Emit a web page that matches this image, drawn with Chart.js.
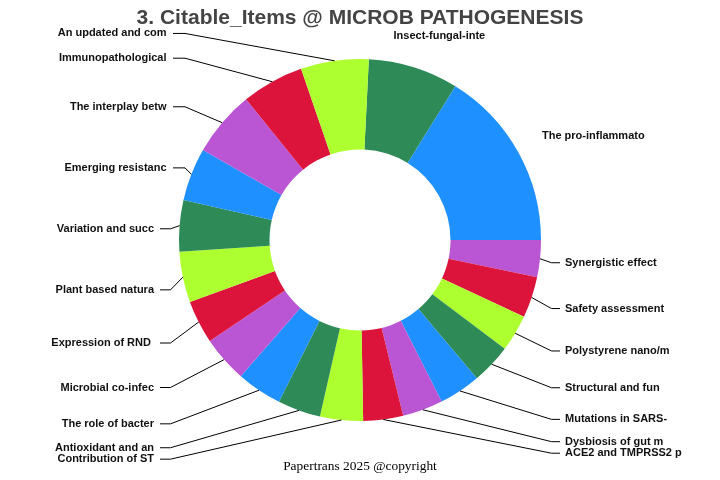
<!DOCTYPE html>
<html>
<head>
<meta charset="utf-8">
<script src="https://cdn.jsdelivr.net/npm/chart.js@4.4.1/dist/chart.umd.min.js"></script>
<style>
  html, body { margin: 0; padding: 0; background: #ffffff; }
  #wrap { width: 720px; height: 480px; }
</style>
</head>
<body>
<div id="wrap"><canvas id="c" width="720" height="480"></canvas></div>
<script>
// ---- data ----
const titleText = "3. Citable_Items @ MICROB PATHOGENESIS";
const footerText = "Papertrans 2025 @copyright";
const categories = [
  "Insect-fungal-inte", "The pro-inflammato", "Synergistic effect", "Safety assessment ",
  "Polystyrene nano/m", "Structural and fun", "Mutations in SARS-", "Dysbiosis of gut m",
  "ACE2 and TMPRSS2 p", "Contribution of ST", "Antioxidant and an", "The role of bacter",
  "Microbial co-infec", "Expression of RND ", "Plant based natura", "Variation and succ",
  "Emerging resistanc", "The interplay betw", "Immunopathological", "An updated and com"
];
const citableItems = [
  29.0, 58.2, 11.9, 13.2,
  11.8, 12.9, 13.4, 13.0,
  12.8, 13.8, 13.8, 14.6,
  14.9, 13.9, 16.3, 16.5,
  17.0, 21.2, 20.0, 21.8
];
const palette = ["#2E8B57", "#1E90FF", "#BA55D3", "#DC143C", "#ADFF2F"];

// ---- plugin: title, footer and outside labels ----
const outLabels = {
  id: 'outLabels',
  afterDraw(chart) {
    const ctx = chart.ctx;
    const W = chart.width;
    ctx.save();
    // title
    ctx.fillStyle = '#444444';
    ctx.font = 'bold 21px "Liberation Sans", Arial, sans-serif';
    ctx.textAlign = 'center';
    ctx.textBaseline = 'middle';
    ctx.fillText(titleText, W / 2, 18);
    // footer
    ctx.fillStyle = '#000000';
    ctx.font = '13.4px "Liberation Serif", "Times New Roman", serif';
    ctx.fillText(footerText, W / 2, 466);

    const meta = chart.getDatasetMeta(0);
    const total = citableItems.reduce((a, b) => a + b, 0);
    ctx.font = 'bold 11px "Liberation Sans", Arial, sans-serif';
    ctx.strokeStyle = '#000000';
    ctx.lineWidth = 1;
    meta.data.forEach((arc, i) => {
      const p = arc.getProps(['x', 'y', 'startAngle', 'endAngle', 'outerRadius'], true);
      const mid = (p.startAngle + p.endAngle) / 2;
      const c = Math.cos(mid), s = Math.sin(mid);
      const right = c >= 0;
      const ly = p.y + (right ? 0.5 : 5.8) + 214.5 * s;
      const txt = categories[i];
      ctx.fillStyle = '#111111';
      if (citableItems[i] / total > 0.07) {
        ctx.textAlign = 'center';
        ctx.fillText(txt, p.x + 267 * c, ly);
        return;
      }
      const sx = p.x + p.outerRadius * c;
      const sy = p.y + p.outerRadius * s;
      let elbowX, endX, textX;
      if (right) {
        elbowX = p.x + 191.5; endX = p.x + 200; textX = p.x + 205;
      } else if (ly < p.y - 40) {
        elbowX = p.x - 175; endX = p.x - 187; textX = p.x - 193.5;
      } else {
        elbowX = p.x - 189.5; endX = p.x - 200; textX = p.x - 206;
      }
      ctx.beginPath();
      ctx.moveTo(sx, sy);
      ctx.lineTo(elbowX, ly);
      ctx.lineTo(endX, ly);
      ctx.stroke();
      ctx.textAlign = right ? 'left' : 'right';
      ctx.fillText(txt, textX, ly);
    });
    ctx.restore();
  }
};

new Chart(document.getElementById('c'), {
  type: 'doughnut',
  data: {
    labels: categories,
    datasets: [{
      data: citableItems,
      backgroundColor: categories.map((_, i) => palette[i % palette.length]),
      borderWidth: 0,
      hoverOffset: 0
    }]
  },
  options: {
    responsive: false,
    animation: false,
    events: [],
    rotation: 2.8,
    radius: 181,
    cutout: '50%',
    layout: { padding: 0 },
    plugins: {
      legend: { display: false },
      title: { display: false },
      tooltip: { enabled: false }
    }
  },
  plugins: [outLabels]
});
</script>
</body>
</html>
